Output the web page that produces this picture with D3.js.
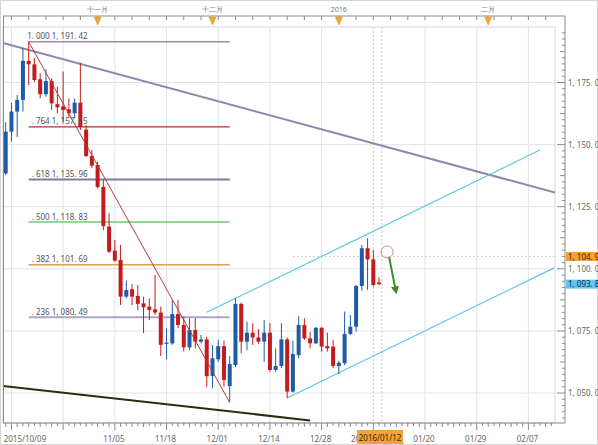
<!DOCTYPE html>
<html><head><meta charset="utf-8">
<script src="https://cdn.jsdelivr.net/npm/d3@7"></script>
<style>body{margin:0;background:#fff;overflow:hidden} text{font-family:"Noto Sans",sans-serif}</style>
</head><body><svg id="c" width="598" height="445"></svg>
<script>
// ---- data (bar index 0 = 2015/10/09) ----
const opens=[1138.4,1155.2,1163.3,1168.0,1183.7,1182.3,1176.3,1170.3,1175.6,1166.3,1165.4,1164.2,1162.6,1166.9,1156.0,1145.4,1141.8,1133.0,1117.0,1107.3,1103.6,1088.8,1091.8,1089.1,1086.1,1084.8,1083.7,1082.4,1069.8,1070.0,1081.8,1077.4,1068.4,1075.4,1070.7,1071.6,1056.9,1063.6,1068.9,1052.8,1061.3,1085.9,1070.7,1074.3,1072.4,1070.7,1074.3,1059.3,1060.9,1071.6,1050.6,1065.3,1077.4,1072.0,1070.0,1076.3,1068.9,1068.7,1060.9,1062.0,1073.8,1076.7,1093.1,1108.3,1103.8,1094.5];
const highs=[1159.0,1166.8,1170.0,1188.9,1191.42,1184.9,1178.7,1180.3,1176.7,1173.3,1179.4,1168.6,1168.6,1182.9,1157.9,1147.8,1143.1,1135.8,1122.4,1111.6,1109.6,1095.2,1093.9,1093.5,1088.8,1088.1,1097.5,1084.8,1076.1,1087.5,1087.5,1080.7,1080.1,1080.1,1073.4,1072.7,1069.4,1071.4,1071.1,1064.9,1088.1,1086.4,1078.7,1078.1,1075.7,1079.4,1078.1,1068.0,1078.1,1072.4,1071.1,1081.0,1080.1,1074.7,1076.5,1076.5,1074.3,1071.4,1063.0,1082.8,1081.4,1093.5,1109.6,1112.3,1107.6,1096.6];
const lows=[1137.8,1151.2,1153.0,1163.3,1174.0,1175.2,1168.6,1169.3,1163.9,1162.6,1159.2,1161.2,1160.6,1155.9,1145.0,1140.5,1132.4,1115.6,1106.3,1102.9,1085.4,1088.1,1085.4,1083.4,1074.1,1079.4,1081.4,1064.9,1063.6,1069.4,1076.1,1066.7,1067.3,1068.0,1070.0,1052.4,1051.9,1062.6,1052.6,1046.23,1060.4,1066.0,1067.3,1069.4,1069.8,1062.6,1058.6,1058.6,1060.0,1048.0,1050.2,1064.0,1071.4,1068.0,1069.8,1066.7,1066.7,1060.0,1057.7,1061.3,1073.4,1074.7,1091.2,1091.5,1092.8,1093.5];
const closes=[1155.2,1163.3,1168.0,1183.7,1182.3,1176.0,1170.3,1175.6,1166.6,1165.0,1163.9,1162.6,1166.9,1157.1,1145.4,1141.5,1132.9,1117.2,1106.9,1103.3,1088.8,1091.5,1088.8,1085.9,1084.5,1083.4,1082.4,1069.4,1070.3,1081.8,1077.4,1068.4,1075.4,1070.7,1071.6,1056.8,1064.0,1068.9,1055.3,1061.7,1085.9,1070.7,1074.3,1072.4,1070.7,1074.3,1059.3,1060.9,1071.6,1050.6,1065.7,1077.4,1072.0,1070.0,1076.3,1068.7,1068.0,1060.9,1062.2,1073.8,1076.7,1093.1,1108.3,1103.8,1093.5,1093.84];

const gridIdx=[1,10,19,28,37,46,55,64,73,82,91];
const xLabelIdx=[19,28,37,46,55,64,73,82,91];
const xLabels=["11/05","11/18","12/01","12/14","12/28","2016/01/11","01/20","01/29","02/07"];
const firstLabel="2015/10/09";
const monthIdx=[16,36,58,84];
const monthLabels=["十一月","十二月","2016","二月"];
const yTicks=[1050,1075,1100,1125,1150,1175];

const fibRatios=[1.000,0.764,0.618,0.500,0.382,0.236];
const fibLevels=[1191.42,1157.15,1135.96,1118.83,1101.69,1080.49];
const fibStart=4, fibEnd=39;

const resistLine=[[-0.47,1190.9],[95.63,1130.7]];
const supportLine=[[-0.47,1052.8],[53,1039.0]];
const fibTrend=[[4,1191.42],[39,1046.23]];
const chanUpper=[[35,1082.5],[93,1147.8]];
const chanLower=[[49,1048.0],[95.5,1100.4]];
const circlePt=[66.4,1106.8];
const arrowPts=[[66.75,1104.8],[67.9,1091.3]];
const askPrice=1104.96, bidPrice=1093.84, curIdx=65, curLabel="2016/01/12";

// ---- styles ----
const fibColors=["#a58aa8","#b03030","#7c7ca4","#72c872","#e0a050","#a8a8c4"];
const fibWidths=[1.5,1.2,2,1.5,1.5,2];
const UP="#1f5ca8", DN="#c41c1c";

const svg=d3.select("#c");
const L=3,R=555,T=27,B=423,AX=565,TOPAX=16;
const x=d3.scaleLinear().domain([-0.47,95.63]).range([L,R]);
const y=d3.scaleLinear().domain([1037.95,1197.34]).range([B,T]);
const fmtN=v=>d3.format(",.2f")(v).replace(",",", ").replace(".",". ");

svg.append("rect").attr("x",0.5).attr("y",0.5).attr("width",597).attr("height",444).attr("fill","#fff").attr("stroke","#d4d4d4");
svg.append("defs").append("clipPath").attr("id","pc").append("rect").attr("x",L).attr("y",T).attr("width",R-L).attr("height",B-T);
svg.select("defs").append("marker").attr("id","ah").attr("viewBox","0 0 10 10").attr("refX",5).attr("refY",5)
  .attr("markerWidth",4).attr("markerHeight",4).attr("orient","auto")
  .append("path").attr("d","M0,0L10,5L0,10Z").attr("fill","#3c8c2a");

// grid
const g=svg.append("g");
g.selectAll(".hg").data(yTicks).join("line").attr("x1",L).attr("x2",R).attr("y1",d=>y(d)).attr("y2",d=>y(d)).attr("stroke","#e2e2e8");
g.selectAll(".vg").data(gridIdx).join("line").attr("x1",d=>x(d)).attr("x2",d=>x(d)).attr("y1",T).attr("y2",B)
  .attr("stroke",d=>d===64?"#c8c8c8":"#e2e2e8").attr("stroke-dasharray",d=>d===64?"2,2":null);
g.append("line").attr("x1",x(curIdx+0.5)).attr("x2",x(curIdx+0.5)).attr("y1",T).attr("y2",B).attr("stroke","#c8c8c8").attr("stroke-dasharray","2,2");
g.append("line").attr("x1",x(50)).attr("x2",R).attr("y1",y(askPrice)).attr("y2",y(askPrice)).attr("stroke","#d0d0d0").attr("stroke-dasharray","2,2");
svg.append("rect").attr("x",L).attr("y",T).attr("width",R-L).attr("height",B-T).attr("fill","none").attr("stroke","#d6d6d6");

const pg=svg.append("g").attr("clip-path","url(#pc)");
const line=d3.line().x(d=>x(d[0])).y(d=>y(d[1]));

// fib levels
fibLevels.forEach((v,k)=>{
  pg.append("line").attr("x1",x(fibStart)).attr("x2",x(fibEnd)).attr("y1",y(v)).attr("y2",y(v))
    .attr("stroke",fibColors[k]).attr("stroke-width",fibWidths[k]);
});
// trend lines
pg.append("path").attr("d",line(resistLine)).attr("stroke","#8a8aae").attr("stroke-width",2).attr("fill","none");
pg.append("path").attr("d",line(supportLine)).attr("stroke","#2c2c0c").attr("stroke-width",2).attr("fill","none");
pg.append("path").attr("d",line(chanUpper)).attr("stroke","#5ec6e2").attr("stroke-width",1.2).attr("fill","none");
pg.append("path").attr("d",line(chanLower)).attr("stroke","#5ec6e2").attr("stroke-width",1.2).attr("fill","none");

// candles
const idx=d3.range(opens.length);
pg.selectAll(".wk").data(idx).join("line").attr("x1",i=>x(i)).attr("x2",i=>x(i)).attr("y1",i=>y(highs[i])).attr("y2",i=>y(lows[i]))
  .attr("stroke",i=>closes[i]>=opens[i]?UP:DN).attr("stroke-width",1);
pg.selectAll(".bd").data(idx).join("rect").attr("x",i=>x(i)-2).attr("width",4)
  .attr("y",i=>y(Math.max(opens[i],closes[i])))
  .attr("height",i=>Math.max(1.2,Math.abs(y(opens[i])-y(closes[i]))))
  .attr("fill",i=>closes[i]>=opens[i]?UP:DN);

pg.append("path").attr("d",line(fibTrend)).attr("stroke","#b53a3a").attr("stroke-width",1).attr("fill","none");

// fib labels
fibLevels.forEach((v,k)=>{
  const r=fibRatios[k]===1?"1. 000":". "+d3.format(".3f")(fibRatios[k]).slice(2);
  svg.append("text").attr("x",x(fibStart)+59).attr("y",y(v)-2.5).attr("text-anchor","end")
    .attr("font-size",8).attr("fill","#555").text(r+" "+fmtN(v));
});

// annotations
pg.append("circle").attr("cx",x(circlePt[0])).attr("cy",y(circlePt[1])).attr("r",6).attr("fill","none").attr("stroke","#e08a8a").attr("stroke-width",1);
pg.append("path").attr("d",line(arrowPts)).attr("stroke","#3c8c2a").attr("stroke-width",2).attr("fill","none").attr("marker-end","url(#ah)");

// top axis
const ax=svg.append("g").attr("stroke","#8a8a8a");
ax.append("line").attr("x1",L).attr("x2",AX).attr("y1",TOPAX).attr("y2",TOPAX);
ax.append("line").attr("x1",L+0.5).attr("x2",L+0.5).attr("y1",TOPAX).attr("y2",B);
ax.append("line").attr("x1",AX).attr("x2",AX).attr("y1",TOPAX).attr("y2",B);
ax.append("line").attr("x1",L).attr("x2",AX).attr("y1",B).attr("y2",B);
ax.selectAll(".tt").data(d3.range(1,97,3)).join("line").attr("x1",d=>x(d)).attr("x2",d=>x(d)).attr("y1",TOPAX).attr("y2",TOPAX+4);
monthIdx.forEach((m,k)=>{
  const cx=x(m);
  svg.append("path").attr("d",`M${cx-3.5},${TOPAX+1}L${cx+3.5},${TOPAX+1}L${cx},${TOPAX+9}Z`).attr("fill","#f0a830").attr("stroke","#d8901c").attr("stroke-width",0.5);
  svg.append("text").attr("x",cx).attr("y",12).attr("text-anchor","middle").attr("font-size",7).attr("fill","#777").text(monthLabels[k]);
});

// bottom axis
ax.selectAll(".bt").data(d3.range(0,96)).join("line").attr("x1",d=>x(d)).attr("x2",d=>x(d)).attr("y1",B)
  .attr("y2",d=>gridIdx.includes(d)?B+7:(d%2?B+3:B+4));
svg.append("text").attr("x",x(0)-2).attr("y",442).attr("font-size",8).attr("fill","#666").text(firstLabel);
xLabelIdx.forEach((d,k)=>{
  svg.append("text").attr("x",x(d)-1).attr("y",442).attr("text-anchor","middle").attr("font-size",8).attr("fill","#666").text(xLabels[k]);
});
svg.append("rect").attr("x",x(curIdx)-22).attr("y",430).attr("width",46).attr("height",14).attr("fill","#f2a23a");
svg.append("text").attr("x",x(curIdx)+1).attr("y",441).attr("text-anchor","middle").attr("font-size",8).attr("fill","#3a2400").text(curLabel);

// right axis
ax.selectAll(".ym").data(d3.range(1040,1197,2.5)).join("line").attr("x1",d=>AX-(d%25===0?8:(d%12.5===0?5:3))).attr("x2",AX).attr("y1",d=>y(d)).attr("y2",d=>y(d));
yTicks.forEach(v=>{
  svg.append("text").attr("x",568).attr("y",y(v)+3).attr("font-size",8).attr("fill","#666").text(fmtN(v));
});
svg.append("rect").attr("x",AX+1).attr("y",y(askPrice)-4.5).attr("width",40).attr("height",9).attr("fill","#f2a23a");
svg.append("text").attr("x",568).attr("y",y(askPrice)+3).attr("font-size",8).attr("fill","#3a2400").text(fmtN(askPrice));
svg.append("rect").attr("x",AX+1).attr("y",y(bidPrice)-4.5).attr("width",40).attr("height",9).attr("fill","#62c6ee");
svg.append("text").attr("x",568).attr("y",y(bidPrice)+3).attr("font-size",8).attr("fill","#10304a").text(fmtN(bidPrice));
</script></body></html>
